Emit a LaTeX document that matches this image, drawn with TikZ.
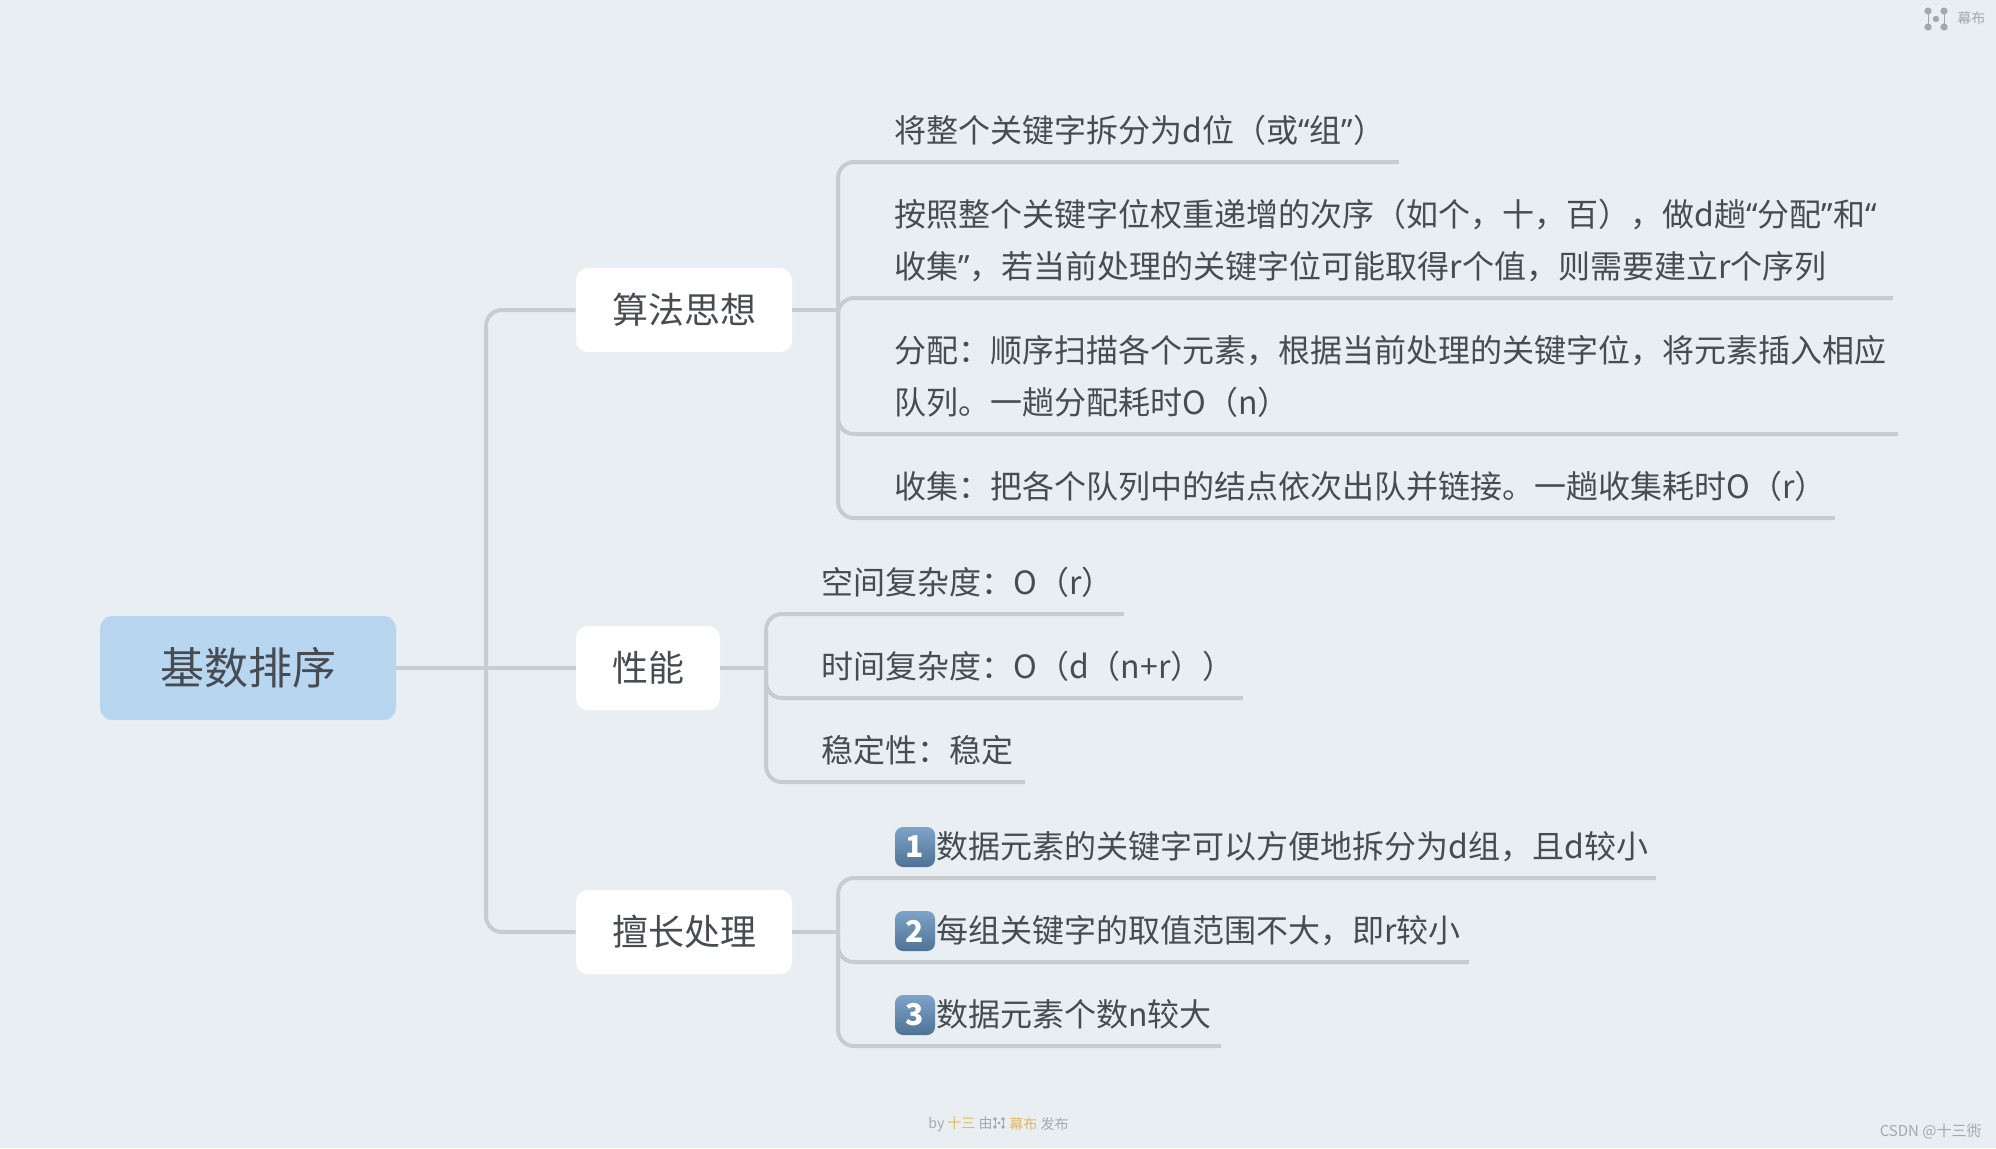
\documentclass[tikz,border=0pt]{standalone}
\usepackage{fontspec}
\setmainfont{Noto Sans CJK SC}
\newfontfamily\quotefont{Noto Sans}
\usepackage{xcolor}
\definecolor{bgcol}{HTML}{E9EEF3}
\definecolor{linecol}{HTML}{C7CCD1}
\definecolor{inkcol}{HTML}{474C52}
\definecolor{rootcol}{HTML}{B9D6F0}
\definecolor{markcol}{HTML}{A3A8AD}
\definecolor{goldcol}{HTML}{E0B95C}
\definecolor{KeyTop}{HTML}{7DA3C8}
\definecolor{KeyBottom}{HTML}{4F7395}
\newcommand{\qopen}{{\quotefont “}}
\newcommand{\qclose}{{\quotefont ”}}
\newcommand{\logoicon}[4]{
 \foreach \px/\py in {0/0,0/2,2/0,2/2}
	\fill[#4] (#1+\px*#3,#2+\py*#3) circle (#3*0.45);
 \fill[#4] (#1+#3,#2+#3) circle (#3*0.4);
 \draw[#4,line width=0.5pt] (#1,#2) -- (#1,#2+2*#3);
 \draw[#4,line width=0.5pt] (#1+2*#3,#2) -- (#1+2*#3,#2+2*#3);
}
\tikzset{
	rootbox/.style={fill=rootcol,rounded corners=6pt,text=inkcol,font=\fontsize{22}{26}\selectfont,inner sep=0pt,minimum width=148pt,minimum height=52pt},
	branchbox/.style={fill=white,rounded corners=6pt,text=inkcol,font=\fontsize{18}{22}\selectfont,inner sep=0pt,minimum height=42pt},
	leaf/.style={anchor=south west,text width=#1*0.5pt,align=left,inner xsep=0pt,inner ysep=0pt,text depth=9.5pt,text=inkcol,font=\fontsize{16}{26}\selectfont},
	twolines/.style={text depth=35.5pt},
	keycap/.style={rounded corners=4pt,top color=KeyTop,bottom color=KeyBottom,text=white,inner sep=0pt,minimum size=20pt,font=\fontsize{15}{15}\selectfont\bfseries},
	link/.style={draw=linecol,line width=2pt,rounded corners=8pt},
	marktext/.style={text=markcol,inner sep=0pt,font=\fontsize{7}{8}\selectfont}
}
\begin{document}
\begin{tikzpicture}[x=0.5pt,y=-0.5pt]
\fill[bgcol] (0,0) rectangle (1996,1148);
\useasboundingbox (0,0) rectangle (1996,1148);

\coordinate (trunk) at (486,668);
\coordinate (algospine) at (838,310);
\coordinate (perfspine) at (766,668);
\coordinate (goodspine) at (838,932);

\node[rootbox] (root) at (248,668) {\raisebox{-0.5pt}{基数排序}};
\node[branchbox,minimum width=108pt] (algo) at (684,310) {\raisebox{-0.5pt}{算法思想}};
\node[branchbox,minimum width=72pt] (perf) at (648,668) {\raisebox{-0.5pt}{性能}};
\node[branchbox,minimum width=108pt] (good) at (684,932) {\raisebox{-0.5pt}{擅长处理}};

\node[leaf=504] (a1) at (894,162) {将整个关键字拆分为d位（或\qopen 组\qclose）};
\node[leaf=998,twolines] (a2) at (894,298) {按照整个关键字位权重递增的次序（如个，十，百），做d趟\qopen 分配\qclose 和\qopen\\收集\qclose，若当前处理的关键字位可能取得r个值，则需要建立r个序列};
\node[leaf=1003,twolines] (a3) at (894,434) {分配：顺序扫描各个元素，根据当前处理的关键字位，将元素插入相应\\队列。一趟分配耗时O（n）};
\node[leaf=940] (a4) at (894,518) {收集：把各个队列中的结点依次出队并链接。一趟收集耗时O（r）};

\node[leaf=302] (p1) at (821,614) {空间复杂度：O（r）};
\node[leaf=421] (p2) at (821,698) {时间复杂度：O（d（n+r））};
\node[leaf=203] (p3) at (821,782) {稳定性：稳定};

\node[leaf=719] (g1) at (936,878) {数据元素的关键字可以方便地拆分为d组，且d较小};
\node[leaf=532] (g2) at (936,962) {每组关键字的取值范围不大，即r较小};
\node[leaf=284] (g3) at (936,1046) {数据元素个数n较大};
\node[keycap] (key1) at (915,847) {1};
\node[keycap] (key2) at (915,931) {2};
\node[keycap] (key3) at (915,1015) {3};

\draw[link] (root.east) -- (perf.west);
\draw[link] (trunk) |- (algo.west);
\draw[link] (trunk) |- (good.west);

\draw[link] (algo.east) -- (algospine);
\foreach \n in {a1,a2,a3,a4}
	\draw[link] (algospine) |- (\n.south east);
\draw[link] (perf.east) -- (perfspine);
\foreach \n in {p1,p2,p3}
	\draw[link] (perfspine) |- (\n.south east);
\draw[link] (good.east) -- (goodspine);
\foreach \n in {g1,g2,g3}
	\draw[link] (goodspine) |- (\n.south east);

%marks
\logoicon{1928}{11}{8}{markcol}
\node[marktext,anchor=west] (mubu) at (1957,18) {幕布};
\node[marktext,anchor=west] (byline) at (928,1124) {by \textcolor{goldcol}{十三} 由};
\logoicon{995}{1119}{4}{markcol}
\node[marktext,anchor=west] (byname) at (1009,1124) {\textcolor{goldcol}{幕布} 发布};
\node[marktext,anchor=east,font=\fontsize{7.5}{9}\selectfont] (csdn) at (1982,1131) {CSDN @十三衖};
\end{tikzpicture}
\end{document}
